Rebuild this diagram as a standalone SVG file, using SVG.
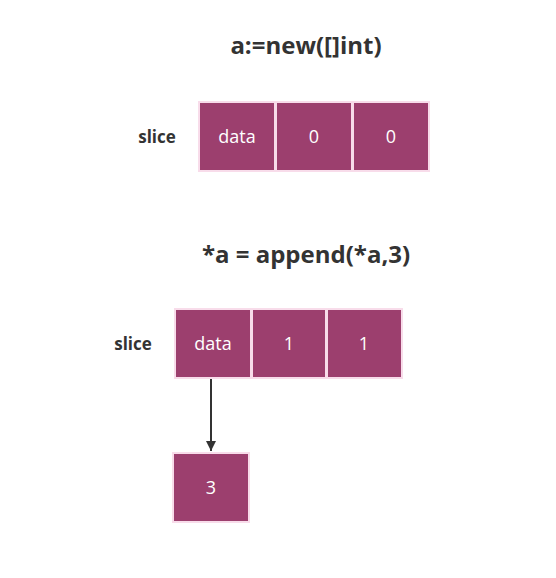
<svg xmlns="http://www.w3.org/2000/svg" width="556" height="578" viewBox="0 0 556 578">
<style>
.title{font-family:"Open Sans","Noto Sans",sans-serif;font-weight:bold;font-size:24px;fill:#333;text-anchor:middle}
.lbl{font-family:"Open Sans","Noto Sans",sans-serif;font-weight:bold;font-size:17px;fill:#333;text-anchor:middle}
.cell rect{fill:#9c3f6e;stroke:#f8dcea;stroke-width:2}
.cell text{font-family:"Open Sans","Noto Sans",sans-serif;font-size:18px;fill:#fff;text-anchor:middle}
.edge{stroke:#333;stroke-width:2;fill:none}
</style>
<defs>
<marker id="ah" viewBox="0 0 10 10" refX="10" refY="5" markerWidth="5" markerHeight="5" orient="auto" markerUnits="strokeWidth">
<path d="M0,0 L10,5 L0,10 z" fill="#333"/>
</marker>
</defs>
<rect width="556" height="578" fill="#fff"/>
<text class="title" x="306" y="54">a:=new([]int)</text>
<text class="title" x="306" y="263">*a = append(*a,3)</text>
<g id="slice1-label"><text class="lbl" x="157" y="143">slice</text></g>
<g id="s1-data" class="cell"><rect x="199" y="102" width="76" height="69"/><text x="237" y="143">data</text></g>
<g id="s1-len" class="cell"><rect x="276" y="102" width="76" height="69"/><text x="314" y="143">0</text></g>
<g id="s1-cap" class="cell"><rect x="353" y="102" width="76" height="69"/><text x="391" y="143">0</text></g>
<g id="slice2-label"><text class="lbl" x="133" y="350">slice</text></g>
<g id="s2-data" class="cell"><rect x="175" y="309" width="76" height="69"/><text x="213" y="350">data</text></g>
<g id="s2-len" class="cell"><rect x="252" y="309" width="74" height="69"/><text x="289" y="350">1</text></g>
<g id="s2-cap" class="cell"><rect x="327" y="309" width="75" height="69"/><text x="364" y="350">1</text></g>
<g id="arr3" class="cell"><rect x="173" y="453" width="76" height="69"/><text x="211" y="494">3</text></g>
<g id="connectors">
<line class="edge" x1="211" y1="379" x2="211" y2="451" marker-end="url(#ah)"/>
</g>
</svg>
